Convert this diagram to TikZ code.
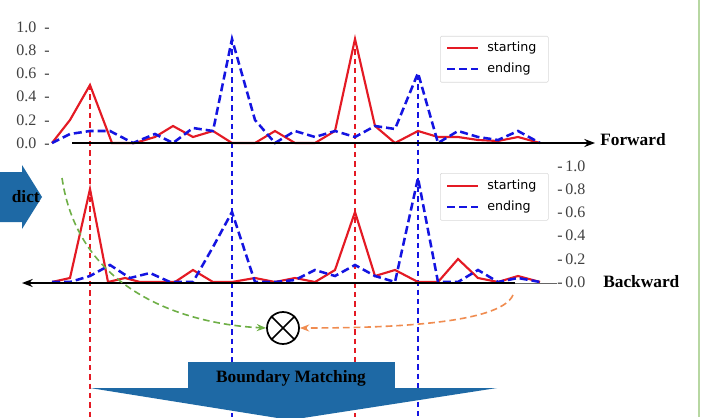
\documentclass[tikz,border=0pt]{standalone}
\usepackage{fontspec}
\setmainfont{Liberation Serif}
\newfontfamily\legf{DejaVu Sans}
\usetikzlibrary{arrows.meta}
\definecolor{cred}{RGB}{228,26,36}
\definecolor{cblue}{RGB}{20,20,225}
\definecolor{cbar}{RGB}{30,105,165}
\definecolor{cgreen}{RGB}{110,175,70}
\definecolor{corange}{RGB}{240,140,80}
\tikzset{
 redline/.style={cred,line width=1.6pt,line join=miter},
 blueline/.style={cblue,line width=1.9pt,dash pattern=on 6pt off 3pt},
 vred/.style={cred,line width=1pt,dash pattern=on 4pt off 3pt},
 vblue/.style={cblue,line width=1pt,dash pattern=on 4pt off 3pt},
 tick/.style={font=\fontsize{12}{12}\selectfont,text=black!75,inner sep=0},
 leg/.style={draw=black!15,fill=white,rounded corners=1pt},
 legt/.style={font=\legf\fontsize{9.5}{10}\selectfont,anchor=west,inner sep=0},
 lab/.style={font=\bfseries\fontsize{13}{13}\selectfont,inner sep=0},
}
\begin{document}
\begin{tikzpicture}[x=0.75pt,y=-0.75pt]
\useasboundingbox (0,0) rectangle (702,417);
\fill[white] (0,0) rectangle (702,417);
\draw[cgreen!50,line width=1.2pt] (699,0) -- (699,417);
% vertical guides
\draw[vred] (90,85) -- (90,417);
\draw[vred] (355,40) -- (355,417);
\draw[vblue] (232,40) -- (232,417);
\draw[vblue] (418,75) -- (418,417);
% top axis ticks
\foreach \v/\t in {0/0.0,0.2/0.2,0.4/0.4,0.6/0.6,0.8/0.8,1/1.0}
  \node[tick,anchor=east] (tt\t) at (50,143-116*\v) {\t\ \ -};
% top curves
\draw[redline] plot coordinates {(52,143) (70,120) (90,85) (112,143) (135,143) (155,137) (173,126) (193,137) (213,131) (232,143) (255,143) (275,131) (295,143) (315,143) (335,131) (355,39) (375,126) (395,143) (418,131) (438,137) (458,137) (478,140) (498,141) (518,137) (540,143)};
\draw[blueline] plot coordinates {(52,143) (70,134) (90,131) (110,131) (133,143) (155,134) (173,143) (193,128) (213,131) (232,39) (255,120) (275,143) (295,131) (315,137) (335,131) (355,137) (375,126) (395,129) (418,73) (438,143) (458,131) (478,137) (498,140) (518,131) (540,143)};
\coordinate (fa) at (72,143); \coordinate (fb) at (595,143);
\draw[line width=1.6pt,-{Stealth[length=8pt]}] (fa) -- (fb);
\node[lab,anchor=west] (fw) at (600,140) {Forward};
% top legend
\node[leg,minimum width=108pt*0.75,minimum height=46pt*0.75,anchor=north west] (lg1) at (440,36) {};
\draw[cred,line width=1.6pt] (447,48) -- (478,48);
\draw[cblue,line width=1.9pt,dash pattern=on 6pt off 3pt] (447,69) -- (478,69);
\node[legt] (lg1a) at (487,48) {starting};
\node[legt] (lg1b) at (487,69) {ending};
% bottom axis ticks
\foreach \v/\t in {0/0.0,0.2/0.2,0.4/0.4,0.6/0.6,0.8/0.8,1/1.0}
  \node[tick,anchor=west] (bt\t) at (557,282-116*\v) {-\,\t};
\draw[redline] plot coordinates {(52,282) (70,278) (90,189) (108,282) (125,278) (140,282) (160,282) (175,282) (193,270) (213,282) (232,282) (255,278) (275,282) (295,278) (315,282) (335,270) (355,212) (375,276) (395,270) (418,282) (438,282) (458,259) (478,278) (498,282) (518,276) (540,282)};
\draw[blueline] plot coordinates {(52,282) (70,282) (90,276) (110,265) (130,278) (150,273) (170,282) (193,282) (213,247) (232,212) (255,282) (275,282) (295,280) (315,270) (335,276) (355,265) (375,276) (395,282) (418,178) (438,282) (458,282) (478,270) (498,282) (518,278) (540,282)};
\coordinate (ba) at (515,283); \coordinate (bb) at (22,283);
\draw[line width=1.6pt,-{Stealth[length=8pt]}] (ba) -- (bb);
\draw[black!60,line width=0.5pt] (515,283) -- (557,283);
\node[lab,anchor=west] (bw) at (603,282) {Backward};
% bottom legend
\node[leg,minimum width=108pt*0.75,minimum height=47pt*0.75,anchor=north west] (lg2) at (440,173) {};
\draw[cred,line width=1.6pt] (447,186) -- (478,186);
\draw[cblue,line width=1.9pt,dash pattern=on 6pt off 3pt] (447,207) -- (478,207);
\node[legt] (lg2a) at (487,186) {starting};
\node[legt] (lg2b) at (487,207) {ending};
% combine
\node[draw,circle,line width=1.3pt,minimum size=24pt,inner sep=0] (ot) at (283,328) {};
\draw[line width=1.1pt] (ot.north west) -- (ot.south east) (ot.north east) -- (ot.south west);
\coordinate (gs) at (62,178); \coordinate (os) at (513,295);
\draw[cgreen,line width=1.2pt,dash pattern=on 5pt off 3pt,-{Stealth[length=7pt]}] (gs) .. controls (80,300) and (200,325) .. (ot.west);
\draw[corange,line width=1.2pt,dash pattern=on 5pt off 3pt,-{Stealth[length=7pt]}] (os) .. controls (500,325) and (380,328) .. (ot.east);
% predict arrow
\fill[cbar] (-5,172) -- (22,172) -- (22,165) -- (42,197) -- (22,229) -- (22,222) -- (-5,222) -- cycle;
\node[lab,anchor=east] (pr) at (40,197) {dict};
% boundary matching
\fill[cbar] (188,362) rectangle (395,390);
\fill[cbar] (90,388) -- (497,388) -- (290,420) -- cycle;
\node[lab] (bm) at (291,378) {Boundary Matching};
\end{tikzpicture}
\end{document}
